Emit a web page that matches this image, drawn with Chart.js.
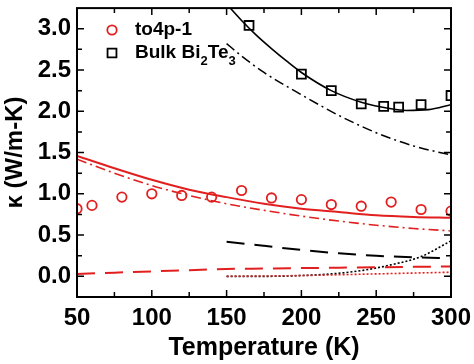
<!DOCTYPE html>
<html>
<head>
<meta charset="utf-8">
<title>Thermal conductivity vs temperature</title>
<script src="https://cdn.jsdelivr.net/npm/chart.js@4.4.0/dist/chart.umd.min.js"></script>
<style>
  html, body { margin: 0; padding: 0; background: #fff; }
</style>
</head>
<body>
<canvas id="kappaChart" width="474" height="364"></canvas>
<script>
// measured points
const tempTo4p = [50, 60, 80, 100, 120, 140, 160, 180, 200, 220, 240, 260, 280, 300];
const kappaTo4p = [0.82, 0.86, 0.96, 1.00, 0.98, 0.96, 1.04, 0.95, 0.93, 0.87, 0.85, 0.90, 0.81, 0.79];

const tempBulk = [165, 200, 220, 240, 255, 265, 280, 300];
const kappaBulk = [3.04, 2.45, 2.25, 2.09, 2.06, 2.05, 2.08, 2.19];

// model curves for to4p-1 (red)
const tempRed = [50, 75, 100, 125, 150, 175, 200, 225, 250, 275, 300];
const redTotal = [1.46, 1.31, 1.17, 1.05, 0.96, 0.88, 0.82, 0.78, 0.74, 0.72, 0.71];
const redLattice = [1.42, 1.25, 1.10, 0.98, 0.88, 0.80, 0.73, 0.67, 0.62, 0.58, 0.55];
const redElectronic = [0.03, 0.045, 0.06, 0.075, 0.09, 0.095, 0.10, 0.105, 0.11, 0.115, 0.12];
const tempRedBipolar = [150, 200, 250, 300];
const redBipolar = [0.0, 0.01, 0.03, 0.05];

// model curves for bulk Bi2Te3 (black)
const tempBlackTotal = [150, 160, 170, 180, 190, 200, 220, 240, 260, 270, 285, 300];
const blackTotal = [3.30, 3.10, 2.92, 2.76, 2.61, 2.47, 2.25, 2.11, 2.03, 2.01, 2.02, 2.08];
const tempBlack = [150, 160, 175, 200, 225, 250, 275, 300];
const blackLattice = [2.82, 2.67, 2.47, 2.20, 1.95, 1.74, 1.58, 1.47];
const tempBlackElec = [150, 175, 200, 225, 250, 275, 300];
const blackElectronic = [0.42, 0.37, 0.32, 0.28, 0.25, 0.23, 0.22];
const tempBlackBipolar = [150, 175, 200, 220, 240, 260, 280, 300];
const blackBipolar = [0.0, 0.0, 0.01, 0.03, 0.07, 0.14, 0.24, 0.43];

// axes
const xTicks = [50, 100, 150, 200, 250, 300];
const xMinorTicks = [75, 125, 175, 225, 275];
const yTicks = [0.0, 0.5, 1.0, 1.5, 2.0, 2.5, 3.0];
const yMinorTicks = [0.25, 0.75, 1.25, 1.75, 2.25, 2.75];

const RED = '#e21f1f';
const BLACK = '#000000';
const FONT = '"Liberation Sans", Arial, sans-serif';

const ctx = document.getElementById('kappaChart').getContext('2d');

/**
 * Pair up x and y arrays into {x, y} points
 */
function zip(xs, ys) {
  return xs.map((x, i) => ({ x, y: ys[i] }));
}

function curve(xs, ys, color, dash, width) {
  return {
    data: zip(xs, ys),
    showLine: true,
    borderColor: color,
    borderWidth: width,
    borderDash: dash,
    pointRadius: 0,
    cubicInterpolationMode: 'monotone',
    fill: false
  };
}

/**
 * Box around the plot with inward ticks on all four sides
 */
const frame = {
  id: 'frame',
  afterDatasetsDraw(chart) {
    const { ctx, chartArea: { left, right, top, bottom }, scales: { x, y } } = chart;
    ctx.save();
    ctx.strokeStyle = BLACK;
    ctx.lineWidth = 1.5;
    ctx.beginPath();
    const xTick = (v, len) => {
      const px = x.getPixelForValue(v);
      ctx.moveTo(px, bottom); ctx.lineTo(px, bottom - len);
      ctx.moveTo(px, top); ctx.lineTo(px, top + len);
    };
    const yTick = (v, len) => {
      const py = y.getPixelForValue(v);
      ctx.moveTo(left, py); ctx.lineTo(left + len, py);
      ctx.moveTo(right, py); ctx.lineTo(right - len, py);
    };
    xTicks.forEach(v => xTick(v, 7));
    xMinorTicks.forEach(v => xTick(v, 5));
    yTicks.forEach(v => yTick(v, 7));
    yMinorTicks.forEach(v => yTick(v, 5));
    ctx.stroke();
    ctx.lineWidth = 2;
    ctx.strokeRect(left, top, right - left, bottom - top);
    ctx.restore();
  }
};

/**
 * Legend in the upper left corner, with subscripts in Bi2Te3
 */
const legendBox = {
  id: 'legendBox',
  afterDraw(chart) {
    const { ctx } = chart;
    const drawPoint = Chart.helpers.drawPoint;
    ctx.save();
    ctx.fillStyle = 'rgba(0,0,0,0)';
    ctx.lineWidth = 1.8;
    ctx.strokeStyle = RED;
    drawPoint(ctx, { pointStyle: 'circle', radius: 4.7, borderWidth: 1.8, rotation: 0 }, 112, 30);
    ctx.strokeStyle = BLACK;
    drawPoint(ctx, { pointStyle: 'rect', radius: 6.3, borderWidth: 1.8, rotation: 0 }, 112, 53);

    ctx.fillStyle = BLACK;
    ctx.textBaseline = 'middle';
    ctx.textAlign = 'left';
    const big = 'bold 19px ' + FONT;
    const small = 'bold 13px ' + FONT;
    ctx.font = big;
    ctx.fillText('to4p-1', 135, 30);

    let tx = 135;
    const parts = [['Bulk Bi', big, 53], ['2', small, 61], ['Te', big, 53], ['3', small, 61]];
    parts.forEach(([text, font, ty]) => {
      ctx.font = font;
      ctx.fillText(text, tx, ty);
      tx += ctx.measureText(text).width;
    });
    ctx.restore();
  }
};

const tickFont = { family: FONT, size: 24, weight: 'bold' };

new Chart(ctx, {
  type: 'scatter',
  data: {
    datasets: [
      {
        label: 'to4p-1',
        data: zip(tempTo4p, kappaTo4p),
        pointStyle: 'circle',
        pointRadius: 4.7,
        borderColor: RED,
        backgroundColor: 'rgba(0,0,0,0)',
        borderWidth: 1.8
      },
      {
        label: 'Bulk Bi2Te3',
        data: zip(tempBulk, kappaBulk),
        pointStyle: 'rect',
        pointRadius: 6.3,
        borderColor: BLACK,
        backgroundColor: 'rgba(0,0,0,0)',
        borderWidth: 1.8
      },
      curve(tempRed, redTotal, RED, [], 2),
      curve(tempRed, redLattice, RED, [10, 4, 2, 4], 1.6),
      curve(tempRed, redElectronic, RED, [18, 10], 2),
      curve(tempRedBipolar, redBipolar, RED, [2, 2], 1.6),
      curve(tempBlackTotal, blackTotal, BLACK, [], 1.6),
      curve(tempBlack, blackLattice, BLACK, [10, 4, 2, 4], 1.5),
      curve(tempBlackElec, blackElectronic, BLACK, [18, 10], 2),
      curve(tempBlackBipolar, blackBipolar, BLACK, [2, 2], 1.6)
    ]
  },
  options: {
    responsive: false,
    animation: false,
    layout: { padding: { top: 3, right: 23, bottom: 0, left: 0 } },
    plugins: {
      legend: { display: false },
      tooltip: { enabled: false }
    },
    scales: {
      x: {
        type: 'linear',
        min: 50,
        max: 300,
        grid: { display: false, drawTicks: false },
        border: { display: false },
        afterBuildTicks: scale => { scale.ticks = xTicks.map(v => ({ value: v })); },
        afterFit: scale => {
          scale.height = 67;
          scale.paddingLeft = 0;
          scale.paddingRight = 0;
        },
        ticks: { color: BLACK, font: tickFont, padding: 7, maxRotation: 0 },
        title: {
          display: true,
          text: 'Temperature (K)',
          color: BLACK,
          font: { family: FONT, size: 25, weight: 'bold', lineHeight: 1.2 },
          padding: { top: 0, bottom: 1 }
        }
      },
      y: {
        min: -0.25,
        max: 3.25,
        grid: { display: false, drawTicks: false },
        border: { display: false },
        afterBuildTicks: scale => { scale.ticks = yTicks.map(v => ({ value: v })); },
        afterFit: scale => {
          scale.width = 77;
          scale.paddingTop = 0;
          scale.paddingBottom = 0;
        },
        ticks: {
          color: BLACK,
          font: tickFont,
          padding: 6,
          callback: v => Number(v).toFixed(1)
        },
        title: {
          display: true,
          text: 'κ (W/m-K)',
          color: BLACK,
          font: { family: FONT, size: 24, weight: 'bold', lineHeight: 1.25 },
          padding: { top: 0, bottom: 0 }
        }
      }
    }
  },
  plugins: [frame, legendBox]
});
</script>
</body>
</html>
